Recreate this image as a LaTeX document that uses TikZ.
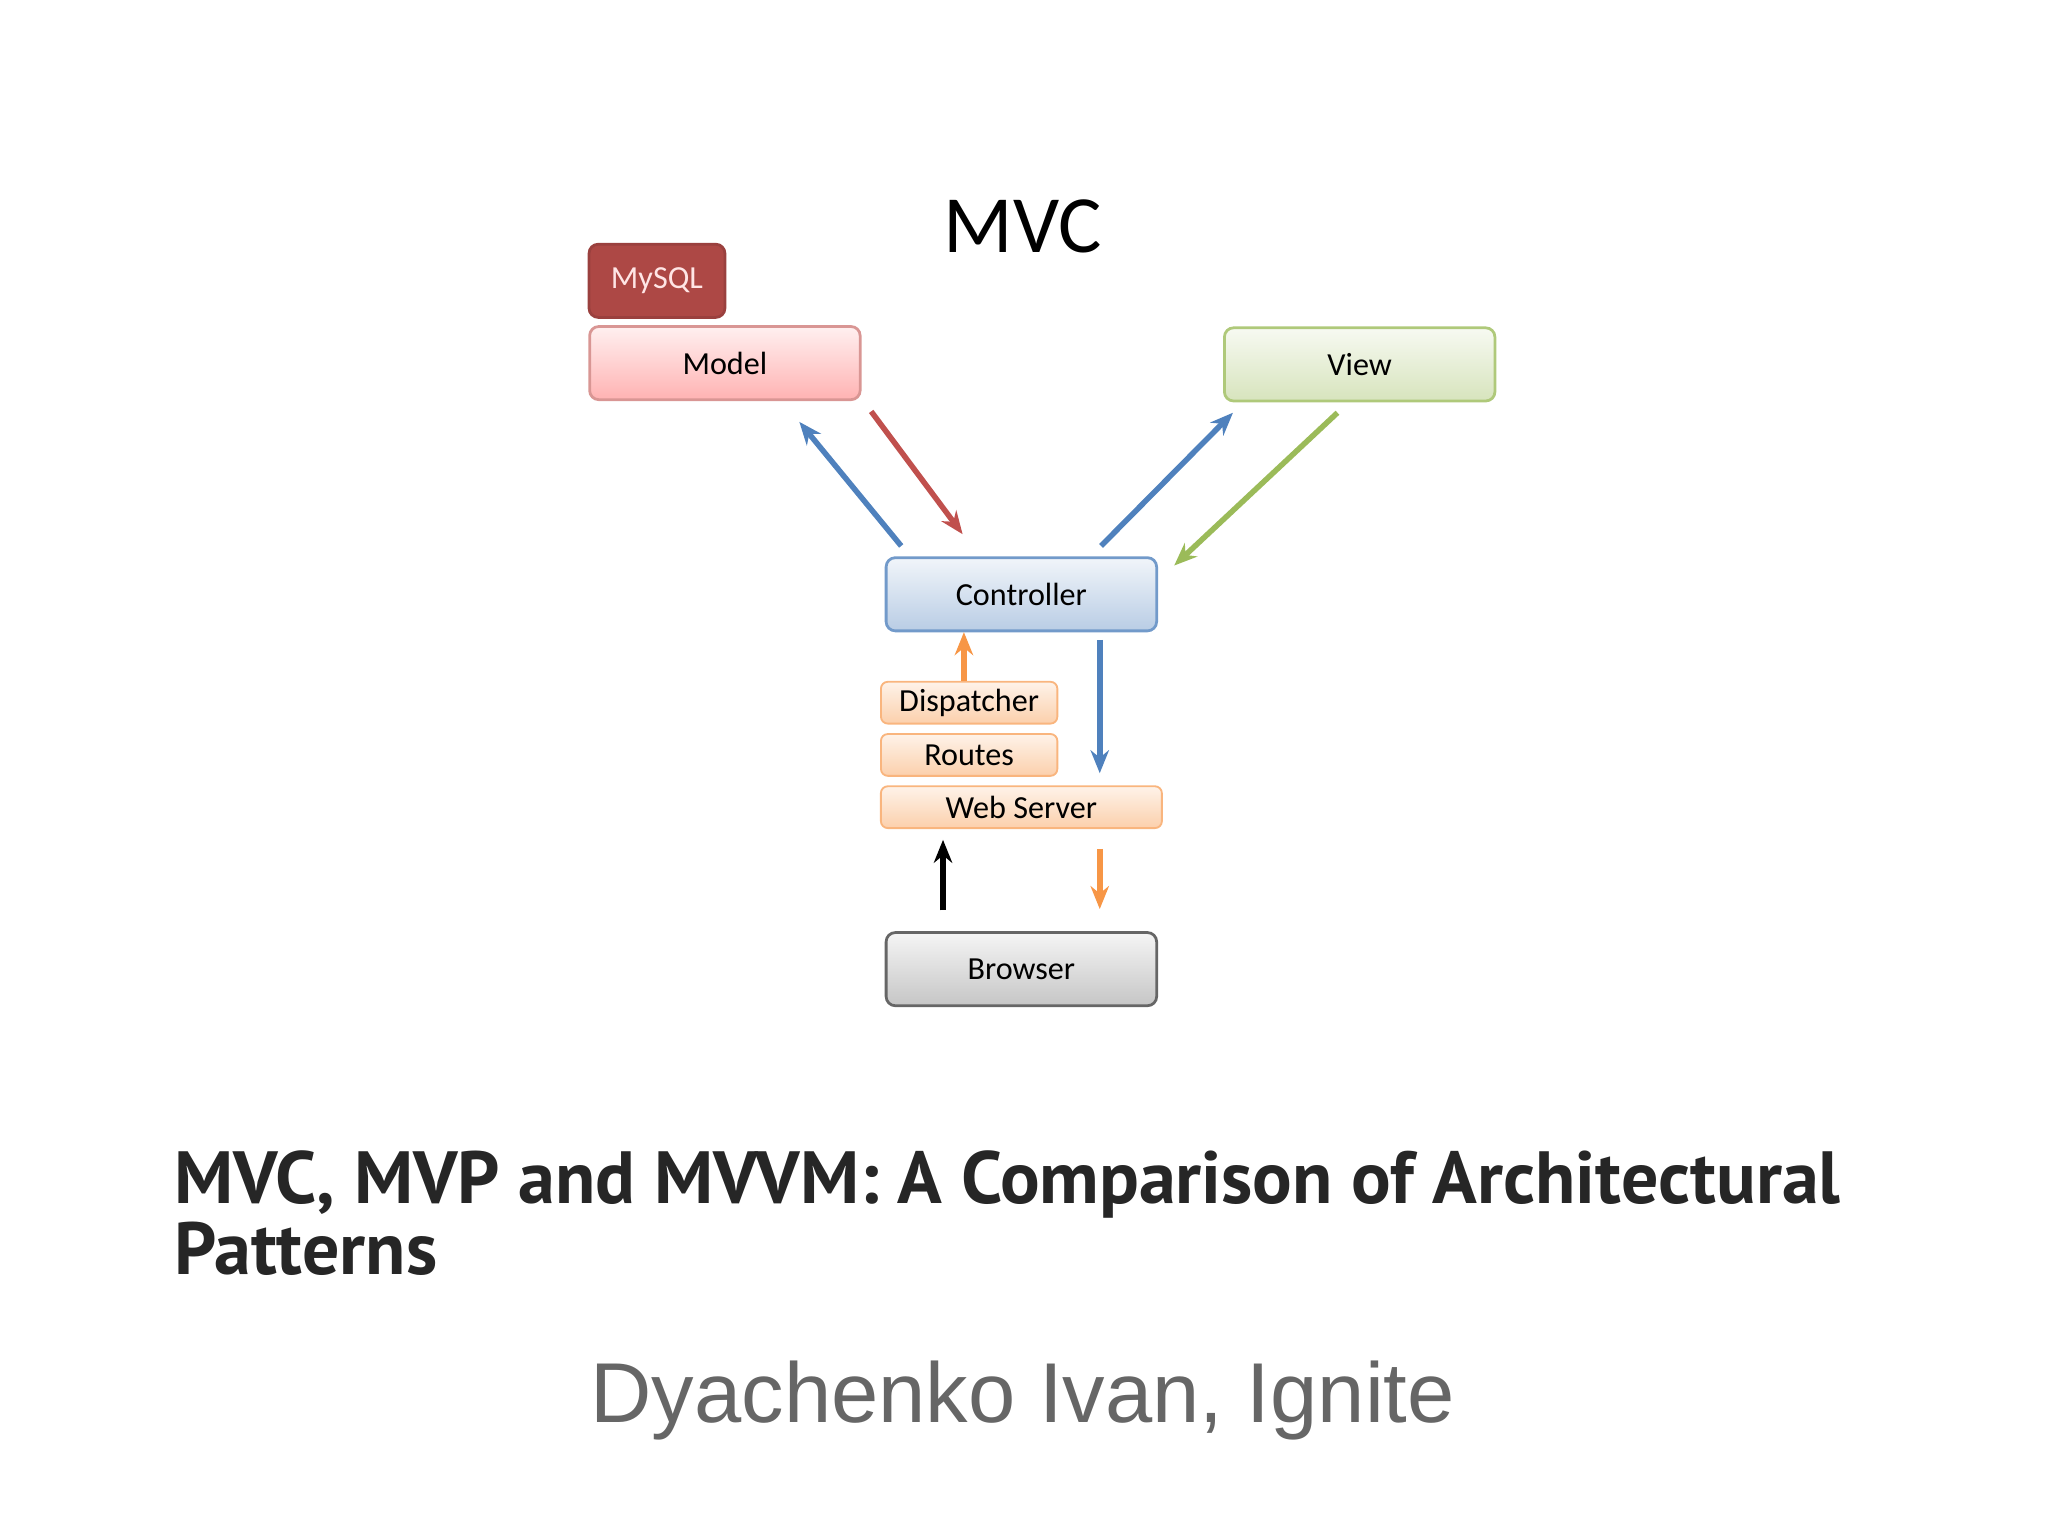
\documentclass[tikz,border=0pt]{standalone}
\usepackage{fontspec}
\setmainfont{Carlito}
\newfontfamily\titf{PT Sans}
\newfontfamily\arialf{Liberation Sans}
\usetikzlibrary{arrows.meta}
\definecolor{obl}{HTML}{4F81BD}
\definecolor{ord}{HTML}{C0504D}
\definecolor{ogr}{HTML}{9BBB59}
\definecolor{oor}{HTML}{F79646}
\begin{document}
\begin{tikzpicture}[x=0.01cm,y=-0.01cm,
 box/.style={draw=#1,rounded corners=2pt,line width=0.6pt,minimum width=2.07cm,minimum height=0.56cm,font=\fontsize{7}{8}\selectfont,inner sep=0pt},
 sbox/.style={draw=oor!70,rounded corners=1.5pt,line width=0.4pt,minimum width=1.35cm,minimum height=0.32cm,font=\fontsize{7}{8}\selectfont,inner sep=0pt,top color=oor!12,bottom color=oor!45},
 arr/.style={-{Stealth[length=5pt,width=4pt]},line width=1.2pt}]
\useasboundingbox (0,0) rectangle (1568,1176);
\node (t) at (783,173) {\fontsize{17.7}{20}\selectfont MVC};
\node[box=ord!80!black,minimum width=1.04cm,fill=ord!90!black,text=white!90!red] (mysql) at (503,215) {MySQL};
\node[box=ord!60,top color=red!6,bottom color=red!30] (model) at (555,278) {Model};
\node[box=ogr!80,top color=ogr!8,bottom color=ogr!40] (view) at (1041,279) {View};
\node[box=obl!80,top color=obl!8,bottom color=obl!40] (ctrl) at (782,455) {Controller};
\node[sbox] (disp) at (742,538) {Dispatcher};
\node[sbox] (routes) at (742,578) {Routes};
\node[sbox,minimum width=2.15cm] (ws) at (782,618) {Web Server};
\node[box=gray!80!black,top color=gray!8,bottom color=gray!45] (br) at (782,742) {Browser};
\coordinate (a1) at (690,418); \coordinate (a2) at (612,323);
\coordinate (b1) at (667,315); \coordinate (b2) at (737,409);
\coordinate (c1) at (843,418); \coordinate (c2) at (944,316);
\coordinate (d1) at (1024,316); \coordinate (d2) at (899,433);
\draw[arr,color=obl] (a1) -- (a2);
\draw[arr,color=ord] (b1) -- (b2);
\draw[arr,color=obl] (c1) -- (c2);
\draw[arr,color=ogr] (d1) -- (d2);
\draw[arr,color=oor] (disp.north -| 738,0) -- (738,484);
\draw[arr,color=obl] (842,490) -- (842,592);
\draw[arr,color=black] (722,697) -- (722,643);
\draw[arr,color=oor] (842,650) -- (842,696);
\node[anchor=north west,align=left,inner sep=0pt,font=\titf\bfseries\fontsize{16.1}{15.5}\selectfont,text=black!85] (title) at (133,880) {MVC, MVP and MVVM: A Comparison of Architectural\\Patterns};
\node[text=black!60,font=\arialf\fontsize{18.5}{22}\selectfont] (auth) at (783,1072) {Dyachenko Ivan, Ignite};
\end{tikzpicture}
\end{document}
